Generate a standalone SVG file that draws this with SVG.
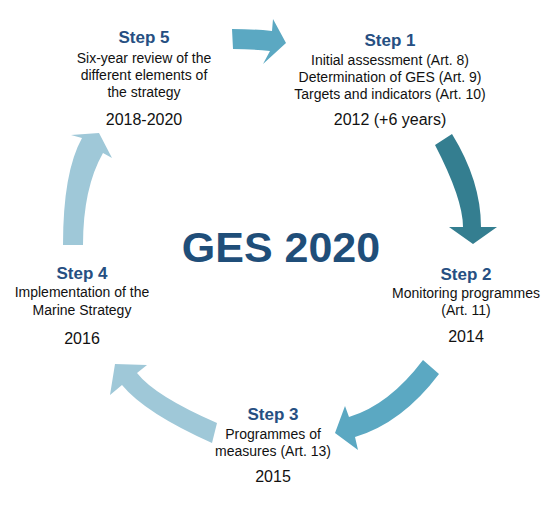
<svg xmlns="http://www.w3.org/2000/svg" width="560" height="505" viewBox="0 0 560 505">
<style>
  text { font-family: "Liberation Sans", Arial, sans-serif; text-anchor: middle; fill: #111; }
  .title { font-size: 17px; font-weight: bold; fill: #264f82; }
  .body { font-size: 14px; }
  .year { font-size: 16px; }
  .main { font-size: 43px; font-weight: bold; fill: #1f4e79; }
  .mid { fill: #5ba8c2; }
  .dark { fill: #347e90; }
  .light { fill: #9fc8d8; }
</style>
<rect width="560" height="505" fill="#ffffff"/>
<g id="connectors">
  <path class="mid" d="M232,29 Q252,29 272,31 L273,19 L286,43 L263,64 L270,51 Q252,49 233,49 Z"/>
  <path class="dark" d="M435,145 L452,134 Q481,181 481,227 L497,227 L473,244 L449,227 L463,227 Q463,199 435,145 Z"/>
  <path class="mid" d="M423,360 L439,374 Q402,423 355,437 L358,450 L335,433 L345,406 L349,417 Q389,405 423,360 Z"/>
  <path class="light" d="M217,423 Q155,396 137,373 L147,365 L115,364 L110,395 L122,385 Q145,413 212,443 Z"/>
  <path class="light" d="M63,245 L83,245 Q83,188 103,153 L112,158 L99,133 L71,135 L82,138 Q63,172 63,245 Z"/>
</g>
<g id="center">
  <text class="main" x="281" y="262">GES 2020</text>
</g>
<g id="step1">
  <text class="title" x="390" y="46">Step 1</text>
  <text class="body" x="390" y="65">Initial assessment (Art. 8)</text>
  <text class="body" x="390" y="82">Determination of GES (Art. 9)</text>
  <text class="body" x="390" y="99">Targets and indicators (Art. 10)</text>
  <text class="year" x="390" y="125">2012 (+6 years)</text>
</g>
<g id="step2">
  <text class="title" x="466" y="280">Step 2</text>
  <text class="body" x="466" y="298">Monitoring programmes</text>
  <text class="body" x="466" y="315">(Art. 11)</text>
  <text class="year" x="466" y="342">2014</text>
</g>
<g id="step3">
  <text class="title" x="273" y="420">Step 3</text>
  <text class="body" x="273" y="439">Programmes of</text>
  <text class="body" x="273" y="456">measures (Art. 13)</text>
  <text class="year" x="273" y="482">2015</text>
</g>
<g id="step4">
  <text class="title" x="82" y="279">Step 4</text>
  <text class="body" x="82" y="297">Implementation of the</text>
  <text class="body" x="82" y="315">Marine Strategy</text>
  <text class="year" x="82" y="344">2016</text>
</g>
<g id="step5">
  <text class="title" x="144" y="43">Step 5</text>
  <text class="body" x="144" y="63">Six-year review of the</text>
  <text class="body" x="144" y="80">different elements of</text>
  <text class="body" x="144" y="97">the strategy</text>
  <text class="year" x="144" y="125">2018-2020</text>
</g>
</svg>
